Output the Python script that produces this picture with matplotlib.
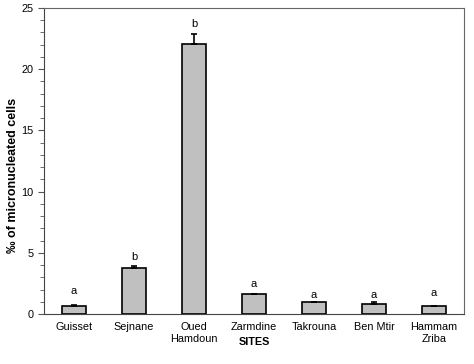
import matplotlib
matplotlib.use("Agg")
import matplotlib.pyplot as plt
from matplotlib.ticker import MultipleLocator

sites = ["Guisset", "Sejnane", "Oued\nHamdoun", "Zarmdine", "Takrouna", "Ben Mtir", "Hammam\nZriba"]
values = [0.65, 3.75, 22.05, 1.63, 0.98, 0.8, 0.65]
errors = [0.1, 0.15, 0.8, 0.05, 0.03, 0.22, 0.04]
letters = ["a", "b", "b", "a", "a", "a", "a"]
letter_y = [1.88, 4.68, 23.7, 2.45, 1.6, 1.6, 1.75]

plt.rcParams['font.family'] = ['Liberation Sans', 'DejaVu Sans']

fig = plt.figure(figsize=(4.74, 3.64), dpi=100)
ax = fig.add_axes([0.0928, 0.137, 0.886, 0.841])
x = range(len(sites))
ax.bar(x, values, width=0.4, color="#c0c0c0", edgecolor="black", linewidth=1.2, zorder=2)
ax.errorbar(x, values, yerr=[[0]*len(errors), errors], fmt="none", ecolor="black",
            elinewidth=1.2, capsize=2.5, capthick=1.2, zorder=3)
for xi, l, ly in zip(x, letters, letter_y):
    ax.text(xi, ly, l, ha="center", va="center", fontsize=8)

ax.set_xlim(-0.5, 6.5)
ax.set_ylim(0, 25)
ax.yaxis.set_major_locator(MultipleLocator(5))
ax.yaxis.set_minor_locator(MultipleLocator(1))
ax.set_xticks(list(x))
ax.set_xticklabels(sites, fontsize=7.8)
ax.tick_params(axis="x", length=0, pad=6)
ax.tick_params(axis="y", which="major", length=4, labelsize=7.8, color="#555555")
ax.tick_params(axis="y", which="minor", length=3, color="#555555")
for s in ax.spines.values():
    s.set_color("#666666")
ax.spines["left"].set_color("#444444")
ax.spines["bottom"].set_color("#444444")
ax.set_xlabel("SITES", fontweight="bold", fontsize=7.8)
ax.xaxis.set_label_coords(0.5, -0.075)
ax.set_ylabel("‰ of micronucleated cells", fontweight="bold", fontsize=9)
ax.yaxis.set_label_coords(-0.06, 0.454)
fig.savefig("out.png", dpi=100)
